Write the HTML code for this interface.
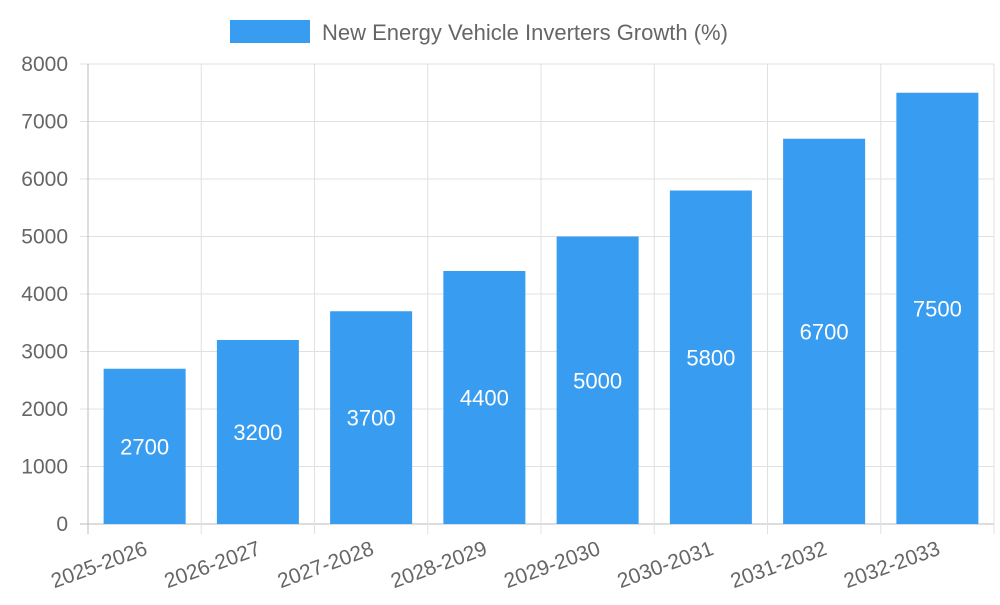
<!DOCTYPE html>
<html><head><meta charset="utf-8"><style>
body{margin:0;background:#fff;font-family:"Liberation Sans",sans-serif;}
svg text{font-family:"Liberation Sans",sans-serif;}
</style></head><body>
<svg id="chart" width="1000" height="600">
<rect x="230" y="20" width="80" height="23" fill="#389cf0"/>
<text x="322" y="40" font-size="22" fill="#666">New Energy Vehicle Inverters Growth (%)</text>
<g id="grid"></g><g id="bars"></g><g id="labels"></g>
</svg>
<script>
const categories=["2025-2026","2026-2027","2027-2028","2028-2029","2029-2030","2030-2031","2031-2032","2032-2033"];
const values=[2700,3200,3700,4400,5000,5800,6700,7500];
const yTicks=[0,1000,2000,3000,4000,5000,6000,7000,8000];
const L=88,R=994,T=64,B=524,yMax=8000;
const bw=(R-L)/categories.length;
const y=v=>B-(v/yMax)*(B-T);
const xc=i=>L+bw*(i+0.5);
const NS="http://www.w3.org/2000/svg";
const g=document.getElementById('grid'),bg=document.getElementById('bars'),lg=document.getElementById('labels');
function mk(tag,attrs,parent){const e=document.createElementNS(NS,tag);for(const k in attrs)e.setAttribute(k,attrs[k]);parent.appendChild(e);return e;}
yTicks.forEach(t=>{
const ln=mk('line',{x1:L-8,x2:R,y1:y(t),y2:y(t),stroke:t===0?'#bbb':'#e0e0e0','stroke-width':1},g);


const tx=mk('text',{x:L-20,y:y(t)+7,'text-anchor':'end','font-size':21,fill:'#666'},g);
tx.textContent=t;


});
for(let i=0;i<=categories.length;i++){
const xx=L+bw*i;
const ln=mk('line',{x1:xx,x2:xx,y1:T,y2:B+10,stroke:i===0?'#bbb':'#e0e0e0','stroke-width':1},g);


}
categories.forEach((c,i)=>{
const w=82;
const r=mk('rect',{x:xc(i)-w/2,y:y(values[i]),width:w,height:B-y(values[i]),fill:'#389cf0'},bg);


const vt=mk('text',{x:xc(i),y:(y(values[i])+B)/2+8,'text-anchor':'middle','font-size':22,fill:'#fff'},lg);
vt.textContent=values[i];


const xt=mk('text',{x:xc(i)+4,y:B+30,'text-anchor':'end','font-size':21,fill:'#666',transform:`rotate(-20 ${xc(i)+4} ${B+30})`},lg);
xt.textContent=c;


});
</script>
</body></html>
